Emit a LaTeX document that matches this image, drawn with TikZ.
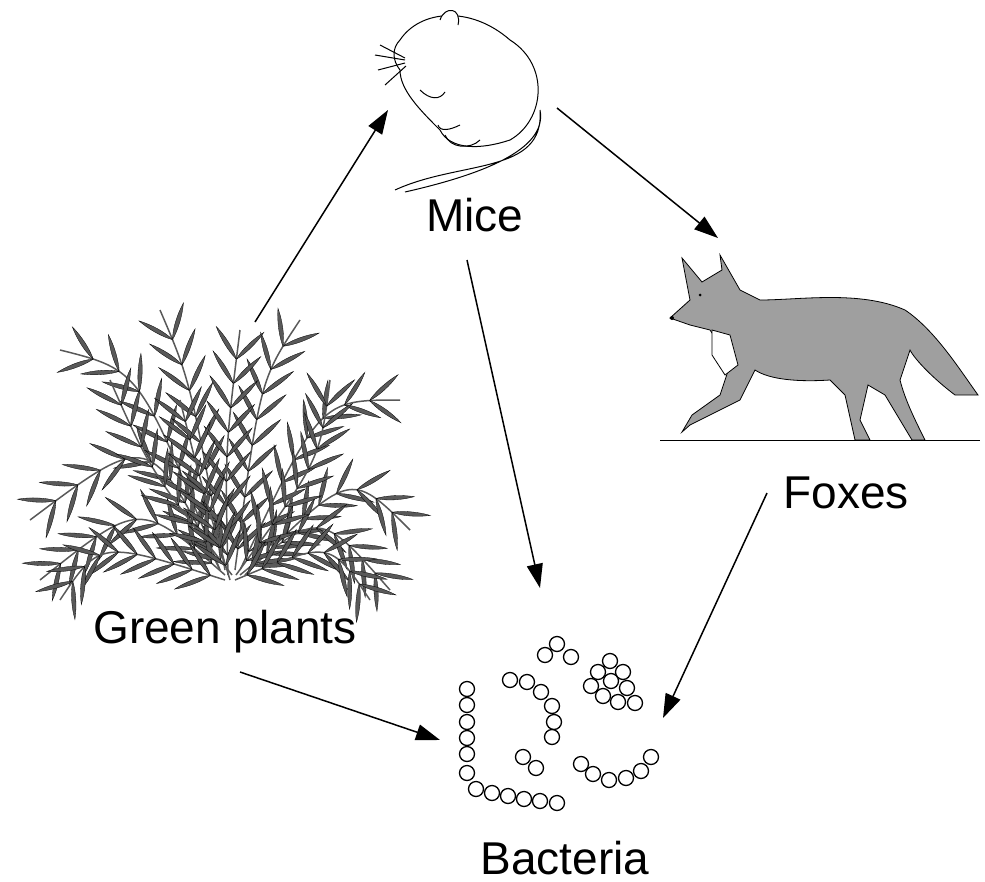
\documentclass[tikz,border=0pt]{standalone}
\usepackage{fontspec}
\setmainfont{Liberation Sans}
\usetikzlibrary{arrows.meta,decorations.markings}
\begin{document}
\begin{tikzpicture}[x=1pt,y=-1pt,
  lbl/.style={font=\fontsize{46}{48}\selectfont},
  arr/.style={line width=1.5pt,-{Triangle[length=24pt,width=16pt]}},
  bac/.style={draw,line width=1.3pt,fill=white},
  frond/.style={draw=gray!70!black,line width=1.5pt,
    postaction={decorate,decoration={markings,
      mark=between positions 0.08 and 0.98 step 0.1 with {
        \filldraw[gray!70!black,draw=black,line width=0.3pt] (0,0) .. controls (6,8) and (18,18) .. (30,24) .. controls (22,14) and (10,4) .. (0,0);
        \filldraw[gray!70!black,draw=black,line width=0.3pt] (0,0) .. controls (6,-8) and (18,-18) .. (30,-24) .. controls (22,-14) and (10,-4) .. (0,0);}}}}]
\useasboundingbox (0,0) rectangle (985,881);
% labels
\node[lbl] (mice) at (475,215) {Mice};
\node[lbl] (foxes) at (846,493) {Foxes};
\node[lbl] (green) at (225,632) {Green plants};
\node[lbl] (bact) at (565,858) {Bacteria};
% anchor coordinates
\coordinate (p1) at (255,322); \coordinate (m1) at (388,110);
\coordinate (m2) at (557,108); \coordinate (f1) at (718,238);
\coordinate (m3) at (467,260); \coordinate (b1) at (540,588);
\coordinate (f2) at (767,493); \coordinate (b2) at (663,718);
\coordinate (p2) at (240,672); \coordinate (b3) at (440,740);
\draw[arr] (p1) -- (m1);
\draw[arr] (m2) -- (f1);
\draw[arr] (m3) -- (b1);
\draw[arr] (f2) -- (b2);
\draw[arr] (p2) -- (b3);
% bacteria
\foreach \x/\y in {467/689,467/705,467/722,467/738,467/754,467/773,476/789,492/793,508/796,524/799,540/801,557/803,
  545/655,557/644,571/657,510/680,527/682,541/692,552/706,554/722,552/737,523/757,536/768,
  610/661,598/672,623/672,611/681,591/686,627/688,603/696,618/702,635/703,
  581/764,593/774,609/780,626/778,641/771,651/757}
  \draw[bac] (\x,\y) circle (7.5);
% plant
\foreach \a/\b/\c/\d/\e/\f in {
  220/570/150/430/30/520, 220/570/140/370/60/350,
  225/570/190/380/160/310, 235/570/260/380/300/320,
  240/570/320/400/400/400, 245/575/350/470/410/530,
  225/575/140/500/40/580, 240/575/320/510/390/590,
  228/575/225/450/240/330, 232/575/150/470/110/380, 236/575/320/460/330/380,
  225/580/100/540/60/600, 235/580/330/540/370/600, 230/580/200/480/180/400}
  \draw[frond] (\a,\b) .. controls (\c,\d) .. (\e,\f);
% mouse
\begin{scope}[line width=1pt,fill=white]
\draw (395,190) .. controls (460,160) and (545,175) .. (540,110) .. controls (548,150) and (480,175) .. (405,192);
\draw[fill=white] (400,40) .. controls (420,10) and (470,5) .. (510,40) .. controls (550,65) and (545,120) .. (510,140)
  .. controls (480,150) and (450,150) .. (440,130) .. controls (420,110) and (400,90) .. (400,70)
  .. controls (392,60) and (392,48) .. (400,40);
\draw[fill=white] (440,20) .. controls (445,5) and (462,8) .. (458,25);
\fill (426,40) ellipse (3 and 4);
\draw (405,60) -- (375,55) (405,63) -- (378,70) (406,66) -- (385,85) (405,58) -- (380,45);
\draw (445,135) .. controls (450,148) and (470,150) .. (480,140);
\draw (460,125) .. controls (450,130) and (440,132) .. (438,125);
\draw (420,90) .. controls (430,100) and (440,100) .. (445,92);
\end{scope}
% fox
\begin{scope}[line width=0.8pt]
\draw[fill=gray!75] (670,318) -- (690,300) -- (682,258) -- (702,282) -- (722,270) -- (720,255) -- (740,290)
  -- (760,300) .. controls (800,300) and (860,290) .. (905,310)
  .. controls (935,330) and (960,370) .. (978,395) -- (955,395) .. controls (935,380) and (915,360) .. (910,350)
  -- (900,380) .. controls (905,400) and (915,420) .. (925,440) -- (912,440) -- (885,395)
  -- (868,385) -- (860,420) -- (870,440) -- (855,440) -- (845,395) -- (830,380)
  .. controls (800,382) and (770,380) .. (755,370) -- (740,400) -- (690,425) -- (682,432) -- (692,415)
  -- (720,395) -- (730,365) -- (720,345) -- (710,330) -- (690,325) -- cycle;
\draw[fill=white] (712,330) -- (730,335) -- (738,365) -- (725,375) -- (712,355) -- cycle;
\fill (700,295) circle (1.5);
\fill (672,318) circle (2);
\draw (660,440) -- (980,440);
\end{scope}
\end{tikzpicture}
\end{document}
